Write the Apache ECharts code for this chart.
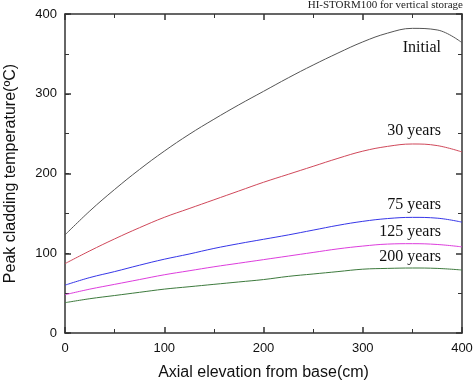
<!DOCTYPE html>
<html><head><meta charset="utf-8">
<script src="https://cdn.jsdelivr.net/npm/echarts@6/dist/echarts.min.js"></script>
<style>html,body{margin:0;padding:0;background:#fff}#c{width:474px;height:384px}</style>
</head><body><div id="c"></div>
<script>
const elevation = [0,25,50,75,100,125,150,175,200,225,250,275,300,325,350,375,400];
const initial  = [123,153,180,205,228,249,268,286,303,320,336,351,365,376,382,380,364];
const years30  = [87,103,118,132,145,156,167,178,189,199,209,219,228,234,237,235,227];
const years75  = [60,69.5,77,85,92.5,99,106,112,117.5,123,129,135,140,143.5,145,144,139];
const years125 = [48,55,61,67,73,78,83,87.5,92,96.5,101,105.5,109,111.5,112,111,108];
const years200 = [38,43,47,51,55,58,61,64,67,71,74,77,80,81,81.5,81,79];
const seriesNames = ['Initial','30 years','75 years','125 years','200 years'];
const seriesData = [initial, years30, years75, years125, years200];
const colors = ['#555555','#d0485a','#3636e8','#dd3ddd','#3d7a3d'];
const labelPos = [[441,48],[441,131],[441,205],[441,232],[441,257]];

const chart = echarts.init(document.getElementById('c'));
function ax(extra, minor){
  return Object.assign({
    min:0,max:400,interval:100,
    axisLine:{show:true,onZero:false,lineStyle:{color:'#333',width:1.5}},
    axisTick:{show:true,inside:true,length:6,lineStyle:{color:'#333',width:1.5}},
    minorTick:{show:minor,splitNumber:2,length:4,lineStyle:{color:'#333',width:1}},
    splitLine:{show:false}
  }, extra);
}
const labelStyle = {color:'#111',fontFamily:'Liberation Sans, Arial',fontSize:13};
chart.setOption({
  animation:false,
  backgroundColor:'#fff',
  grid:{left:65,right:12,top:14,bottom:51,containLabel:false,outerBoundsMode:'none'},
  xAxis:[
    ax({type:'value',position:'bottom',
      axisLabel:Object.assign({margin:9},labelStyle),
      name:'Axial elevation from base(cm)',nameLocation:'middle',nameGap:32,
      nameTextStyle:{color:'#111',fontFamily:'Liberation Sans, Arial',fontSize:16}},true),
    ax({type:'value',position:'top',axisLabel:{show:false}},true)
  ],
  yAxis:[
    ax({type:'value',position:'left',
      axisLabel:Object.assign({margin:8},labelStyle),
      name:'Peak cladding temperature(ºC)',nameLocation:'middle',nameGap:46,
      nameTextStyle:{color:'#111',fontFamily:'Liberation Sans, Arial',fontSize:16}},false),
    ax({type:'value',position:'right',axisLabel:{show:false}},true),
    {type:'value',position:'left',min:0,max:400,interval:50,
      axisLine:{show:false},axisLabel:{show:false},splitLine:{show:false},
      axisTick:{show:true,inside:true,length:4,lineStyle:{color:'#333',width:1}},
      minorTick:{show:false}}
  ],
  series: seriesData.map((d,i)=>({
    name:seriesNames[i],type:'line',smooth:0.4,showSymbol:false,
    xAxisIndex:0,yAxisIndex:0,
    data:elevation.map((x,j)=>[x,d[j]]),
    lineStyle:{color:colors[i],width:1},
    itemStyle:{color:colors[i]}
  })),
  graphic:[
    {type:'text',right:11,top:0,style:{text:'HI-STORM100 for vertical storage',
      font:'11px "Liberation Serif", "Times New Roman", serif',fill:'#222'}}
  ].concat(seriesNames.map((n,i)=>({type:'text',x:labelPos[i][0],y:labelPos[i][1],
      style:{text:n,font:'16px "Liberation Serif", "Times New Roman", serif',fill:'#111',
      textAlign:'right',textVerticalAlign:'middle'}})))
});
</script></body></html>
